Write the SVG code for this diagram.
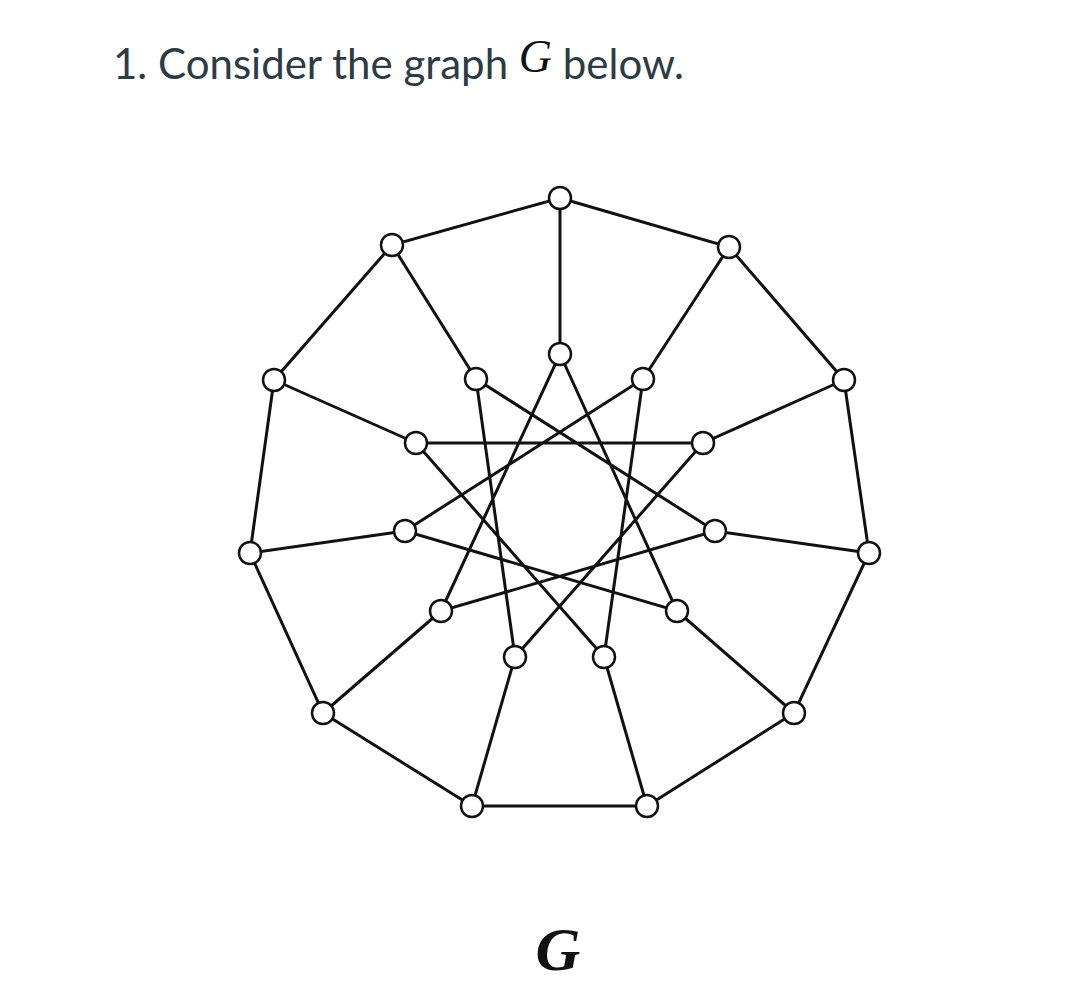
<svg xmlns="http://www.w3.org/2000/svg" width="1080" height="1007" viewBox="0 0 1080 1007">
<style>
.e{stroke:#111;stroke-width:3;fill:none}
.n{fill:#fff;stroke:#111;stroke-width:2.5}
.t{font-family:Lato,"Liberation Sans",sans-serif;font-size:42px;fill:#2d3b45}
</style>
<rect width="1080" height="1007" fill="#fff"/>
<text class="t" x="113" y="79">1. Consider the graph <tspan font-family="'Liberation Serif',serif" font-style="italic" font-size="46" fill="#111" dy="-7">G</tspan><tspan dy="7"> below.</tspan></text>
<g id="connectors" class="e">
<polygon points="560,198 729,247 844,380 869,553 794,713 647,806 472,806 323,713 250,553 274,380 392,245"/>
<polygon points="560,354 677,611 405,531 643,379 604,657 416,443 703,443 515,657 476,379 715,531 441,611"/>
<line x1="560" y1="198" x2="560" y2="354"/><line x1="729" y1="247" x2="643" y2="379"/><line x1="844" y1="380" x2="703" y2="443"/><line x1="869" y1="553" x2="715" y2="531"/><line x1="794" y1="713" x2="677" y2="611"/><line x1="647" y1="806" x2="604" y2="657"/><line x1="472" y1="806" x2="515" y2="657"/><line x1="323" y1="713" x2="441" y2="611"/><line x1="250" y1="553" x2="405" y2="531"/><line x1="274" y1="380" x2="416" y2="443"/><line x1="392" y1="245" x2="476" y2="379"/>
</g>
<g id="o0"><circle class="n" cx="560" cy="198" r="11"/></g><g id="o1"><circle class="n" cx="729" cy="247" r="11"/></g><g id="o2"><circle class="n" cx="844" cy="380" r="11"/></g><g id="o3"><circle class="n" cx="869" cy="553" r="11"/></g><g id="o4"><circle class="n" cx="794" cy="713" r="11"/></g><g id="o5"><circle class="n" cx="647" cy="806" r="11"/></g><g id="o6"><circle class="n" cx="472" cy="806" r="11"/></g><g id="o7"><circle class="n" cx="323" cy="713" r="11"/></g><g id="o8"><circle class="n" cx="250" cy="553" r="11"/></g><g id="o9"><circle class="n" cx="274" cy="380" r="11"/></g><g id="o10"><circle class="n" cx="392" cy="245" r="11"/></g>
<g id="i0"><circle class="n" cx="560" cy="354" r="11"/></g><g id="i1"><circle class="n" cx="643" cy="379" r="11"/></g><g id="i2"><circle class="n" cx="703" cy="443" r="11"/></g><g id="i3"><circle class="n" cx="715" cy="531" r="11"/></g><g id="i4"><circle class="n" cx="677" cy="611" r="11"/></g><g id="i5"><circle class="n" cx="604" cy="657" r="11"/></g><g id="i6"><circle class="n" cx="515" cy="657" r="11"/></g><g id="i7"><circle class="n" cx="441" cy="611" r="11"/></g><g id="i8"><circle class="n" cx="405" cy="531" r="11"/></g><g id="i9"><circle class="n" cx="416" cy="443" r="11"/></g><g id="i10"><circle class="n" cx="476" cy="379" r="11"/></g>
<text x="558" y="970" text-anchor="middle" font-family="'Liberation Serif',serif" font-style="italic" font-weight="bold" font-size="62" fill="#111">G</text>
</svg>
